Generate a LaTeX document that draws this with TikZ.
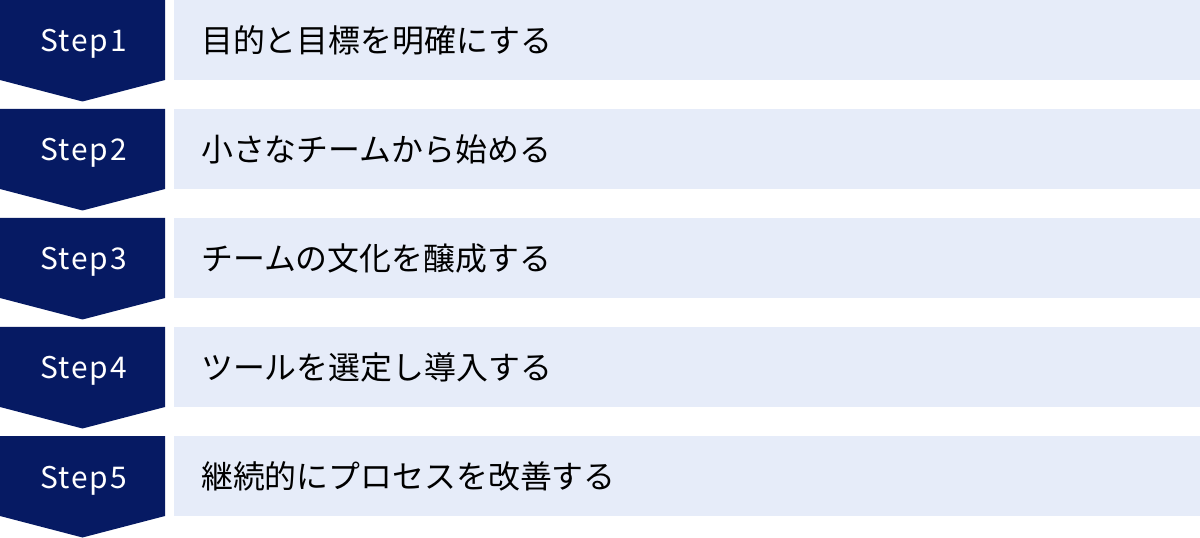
\documentclass[tikz,border=0pt]{standalone}
\usepackage{fontspec}
\setmainfont{Noto Sans}
\newfontfamily\jpfont{Noto Sans CJK JP}
\newfontfamily\stepfont[LetterSpace=6]{Noto Sans CJK JP}
\definecolor{navy}{HTML}{061A63}
\definecolor{lightbg}{HTML}{E6ECF9}
\begin{document}
\begin{tikzpicture}[x=1bp,y=-1bp,
  stepshape/.style={fill=navy,draw=none},
  stepbar/.style={fill=lightbg,draw=none},
  steplabel/.style={text=white,font=\stepfont\fontsize{30}{30}\selectfont,inner sep=0pt,anchor=base},
  bartext/.style={text=black,font=\jpfont\fontsize{32}{32}\selectfont,inner sep=0pt,anchor=west}]
\useasboundingbox (0,0) rectangle (1200,538);
\foreach \i/\t in {0/目的と目標を明確にする,1/小さなチームから始める,2/チームの文化を醸成する,3/ツールを選定し導入する,4/継続的にプロセスを改善する}{
  \pgfmathsetmacro{\y}{109*\i}
  \fill[stepshape] (0,\y) -- (165,\y) -- (165,\y+80) -- (82.5,\y+101.5) -- (0,\y+80) -- cycle;
  \fill[stepbar] (174,\y) rectangle (1200,\y+80);
  \pgfmathtruncatemacro{\n}{\i+1}
  \node[steplabel] (s\n) at (83.5,\y+52) {Step\n};
  \node[bartext] (t\n) at (201,\y+40) {\t};
}
\end{tikzpicture}
\end{document}
